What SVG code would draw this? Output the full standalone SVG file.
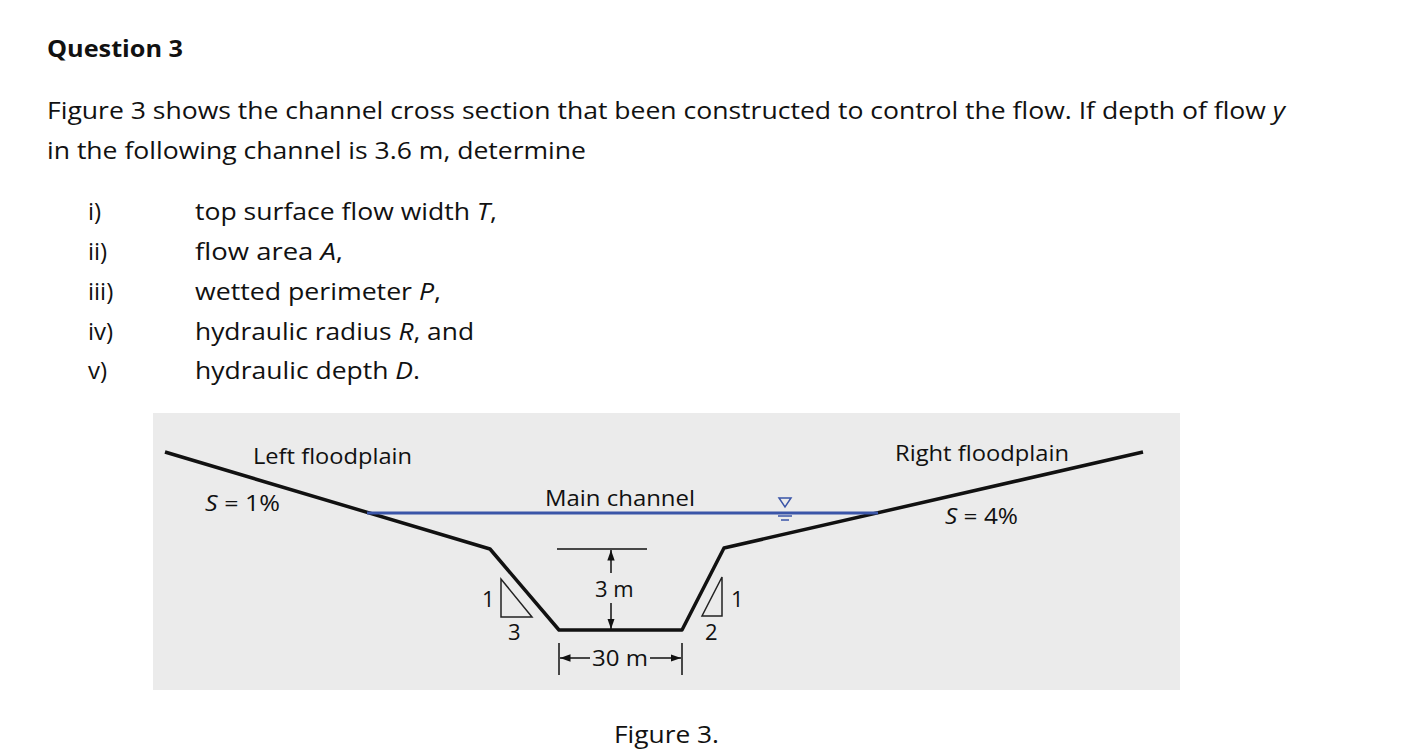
<svg xmlns="http://www.w3.org/2000/svg" width="1418" height="756" viewBox="0 0 1418 756">
<style>
text{font-family:"Open Sans","Noto Sans",sans-serif;fill:#111}
.q{font-size:24px}
.d{font-size:22px}
.g{stroke:#111;stroke-width:3.5;fill:none;stroke-linejoin:round}
.t{stroke:#222;stroke-width:1.5;fill:none}
</style>
<defs><marker id="a" viewBox="0 0 10 10" refX="10" refY="5" markerWidth="7" markerHeight="7" orient="auto-start-reverse"><path d="M0,1.5L10,5L0,8.5z" fill="#111"/></marker></defs>
<rect width="1418" height="756" fill="#fff"/>
<text x="47" y="57" class="q" font-weight="bold" textLength="136" lengthAdjust="spacingAndGlyphs">Question 3</text>
<text x="47" y="119" class="q" textLength="1238" lengthAdjust="spacingAndGlyphs">Figure 3 shows the channel cross section that been constructed to control the flow. If depth of flow <tspan font-style="italic">y</tspan></text>
<text x="47" y="159" class="q" textLength="539" lengthAdjust="spacingAndGlyphs">in the following channel is 3.6 m, determine</text>
<g id="items">
<text x="88" y="220" class="q">i)</text><text x="195" y="220" class="q" textLength="302" lengthAdjust="spacingAndGlyphs">top surface flow width <tspan font-style="italic">T</tspan>,</text>
<text x="88" y="260" class="q">ii)</text><text x="195" y="260" class="q" textLength="148" lengthAdjust="spacingAndGlyphs">flow area <tspan font-style="italic">A</tspan>,</text>
<text x="88" y="300" class="q">iii)</text><text x="195" y="300" class="q" textLength="246" lengthAdjust="spacingAndGlyphs">wetted perimeter <tspan font-style="italic">P</tspan>,</text>
<text x="88" y="340" class="q">iv)</text><text x="195" y="340" class="q" textLength="279" lengthAdjust="spacingAndGlyphs">hydraulic radius <tspan font-style="italic">R</tspan>, and</text>
<text x="88" y="379" class="q">v)</text><text x="195" y="379" class="q" textLength="225" lengthAdjust="spacingAndGlyphs">hydraulic depth <tspan font-style="italic">D</tspan>.</text>
</g>
<rect x="153" y="413" width="1027" height="277" fill="#ebebeb"/>
<g id="ground"><polyline class="g" points="165,452 490,549 559,630 682,630 724,548 1143,452"/></g>
<g id="water"><line x1="367" y1="513" x2="878" y2="513" stroke="#3a55a8" stroke-width="3"/>
<path d="M779,498H791L785,507Z" fill="none" stroke="#3a55a8" stroke-width="1.5"/>
<line x1="778" y1="516" x2="792" y2="516" stroke="#3a55a8" stroke-width="1.5"/>
<line x1="781" y1="520" x2="789" y2="520" stroke="#3a55a8" stroke-width="1.5"/></g>
<g id="labels">
<text x="253" y="464" class="d" textLength="159" lengthAdjust="spacingAndGlyphs">Left floodplain</text>
<text x="895" y="461" class="d" textLength="174" lengthAdjust="spacingAndGlyphs">Right floodplain</text>
<text x="205" y="511" class="d" textLength="75" lengthAdjust="spacingAndGlyphs"><tspan font-style="italic">S</tspan> = 1%</text>
<text x="945" y="524" class="d" textLength="73" lengthAdjust="spacingAndGlyphs"><tspan font-style="italic">S</tspan> = 4%</text>
<text x="545" y="506" class="d" textLength="150" lengthAdjust="spacingAndGlyphs">Main channel</text>
</g>
<g id="slopes">
<path class="t" d="M501,579V617H532Z"/>
<path class="t" d="M722,577V616H702Z"/>
<text x="482" y="607" class="d">1</text><text x="508" y="640" class="d">3</text>
<text x="731" y="607" class="d">1</text><text x="705" y="640" class="d">2</text>
</g>
<g id="connectors">
<line x1="557" y1="549" x2="647" y2="549" stroke="#111" stroke-width="1.5"/>
<line x1="611" y1="573" x2="611" y2="550" stroke="#111" stroke-width="1.5" marker-end="url(#a)"/>
<line x1="611" y1="603" x2="611" y2="629" stroke="#111" stroke-width="1.5" marker-end="url(#a)"/>
<text x="595" y="597" class="d">3 m</text>
<line x1="559" y1="643" x2="559" y2="675" stroke="#111" stroke-width="1.5"/>
<line x1="682" y1="643" x2="682" y2="675" stroke="#111" stroke-width="1.5"/>
<line x1="590" y1="658" x2="560" y2="658" stroke="#111" stroke-width="1.5" marker-end="url(#a)"/>
<line x1="650" y1="658" x2="681" y2="658" stroke="#111" stroke-width="1.5" marker-end="url(#a)"/>
<text x="592" y="666" class="d" textLength="56" lengthAdjust="spacingAndGlyphs">30 m</text>
</g>
<text x="614" y="743" class="q" textLength="105" lengthAdjust="spacingAndGlyphs">Figure 3.</text>
</svg>
